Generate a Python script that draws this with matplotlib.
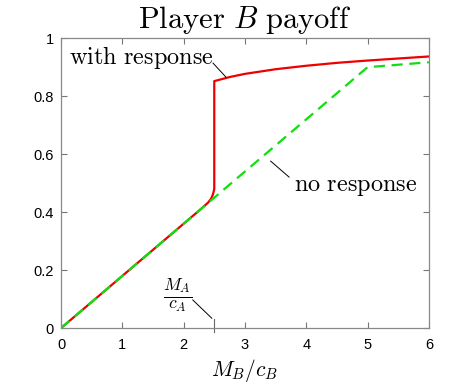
import numpy as np
import matplotlib
matplotlib.use("Agg")
import matplotlib.pyplot as plt

plt.rcParams["mathtext.fontset"] = "cm"
plt.rcParams["font.family"] = ["Liberation Sans", "DejaVu Sans"]

# Curva sem resposta (verde tracejada)
x_no = [0, 5, 6]
y_no = [0, 0.90, 0.917]

# Curva com resposta (vermelha)
x_with = [0, 2.30, 2.40, 2.45, 2.48, 2.50, 2.50, 2.75, 3.0, 3.5, 4.0, 4.5, 5.0, 5.5, 6.0]
y_with = [0, 0.414, 0.433, 0.447, 0.462, 0.48, 0.852, 0.866, 0.877, 0.893, 0.905, 0.915, 0.923, 0.930, 0.937]

x_ticks = [0, 1, 2, 3, 4, 5, 6]
y_ticks = [0, 0.2, 0.4, 0.6, 0.8, 1]
ma_ca = 2.5

fig = plt.figure(figsize=(4.74, 3.86), dpi=100)
ax = fig.add_axes([0.1287, 0.150, 0.776, 0.751])

ax.plot(x_with, y_with, color="#ee0000", linewidth=1.6)
ax.plot(x_no, y_no, color="#11dd11", linewidth=1.6, linestyle=(0, (5, 3)))

ax.set_xlim(0, 6)
ax.set_ylim(0, 1)
ax.set_xticks(x_ticks)
ax.set_yticks(y_ticks)
ax.set_yticklabels(["0", "0.2", "0.4", "0.6", "0.8", "1"])
ax.tick_params(direction="in", length=4, width=0.8, color="#777777",
               top=True, right=True, labelsize=10.5)
ax.tick_params(axis="x", pad=7)
ax.tick_params(axis="y", pad=5)
for s in ax.spines.values():
    s.set_color("#888888")
    s.set_linewidth(0.9)

# Marca especial em M_A/c_A
ax.plot([ma_ca, ma_ca], [-0.014, 0.031], color="#666666", linewidth=0.8, clip_on=False)
ax.text(1.91, 0.112, r"$\frac{M_A}{c_A}$", fontsize=18, ha="center", va="center")
ax.plot([2.15, 2.46], [0.097, 0.034], color="black", linewidth=0.7)

# Anotações
ax.text(1.32, 0.934, r"$\mathrm{with\ response}$", fontsize=17.5, ha="center", va="center")
ax.plot([2.48, 2.69], [0.914, 0.866], color="black", linewidth=0.7)
ax.text(4.81, 0.486, r"$\mathrm{no\ response}$", fontsize=17.5, ha="center", va="center")
ax.plot([3.42, 3.72], [0.576, 0.521], color="black", linewidth=0.7)

ax.set_title(r"$\mathrm{Player}\ B\ \mathrm{payoff}$", fontsize=22, pad=7)
ax.set_xlabel(r"$M_B/c_B$", fontsize=15.5, labelpad=4)

plt.savefig("out.png", dpi=100)
